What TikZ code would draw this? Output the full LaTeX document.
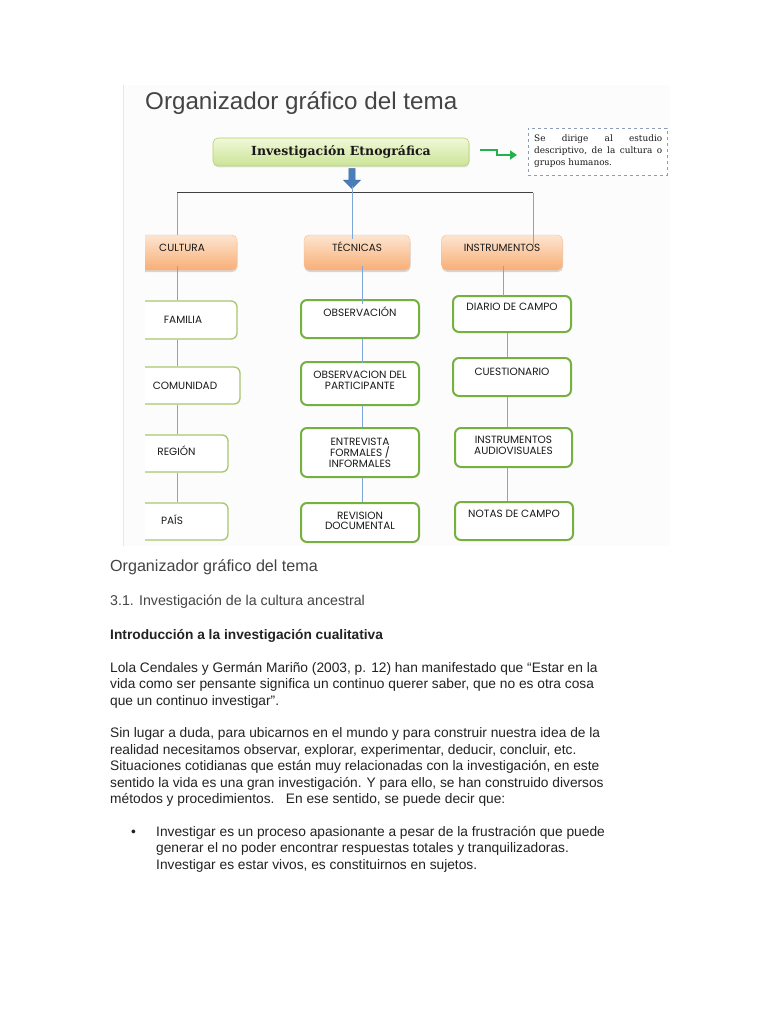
\documentclass[tikz,border=0pt]{standalone}
\usepackage{fontspec}
\setmainfont{Liberation Sans}
\newfontfamily\boxfont{Poppins}
\newfontfamily\serifb{DejaVu Serif}
\usetikzlibrary{shapes.arrows,arrows.meta,shadows}
\definecolor{txt}{HTML}{222222}
\definecolor{head}{HTML}{444444}
\definecolor{conn}{HTML}{7EA6D8}
\definecolor{gthick}{HTML}{76B041}
\definecolor{gthin}{HTML}{A9C66B}
\definecolor{otop}{HTML}{FDE5D0}
\definecolor{obot}{HTML}{F8AE76}
\definecolor{mtop}{HTML}{F1F8D8}
\definecolor{mbot}{HTML}{CBE497}
\definecolor{mbord}{HTML}{B3D36C}
\definecolor{barrow}{HTML}{4A7EBB}
\definecolor{garrow}{HTML}{22B14C}
\definecolor{dashc}{HTML}{8C9DB8}
\newcommand{\upby}[2]{\raisebox{#1}[\height][\depth]{#2}}
\tikzset{
  cat/.style={rectangle, rounded corners=5pt, top color=otop, bottom color=obot, draw=obot!80!white, line width=0.4pt,
     font=\boxfont\fontsize{10.4}{10}\selectfont, text=black!90, inner sep=0pt,
     drop shadow={shadow xshift=0.5pt, shadow yshift=-2pt, opacity=0.3}},
  thick box/.style={rectangle, rounded corners=6pt, draw=gthick, line width=2pt, fill=white,
     font=\boxfont\fontsize{10.5}{11}\selectfont, text=black!90, align=center, inner sep=0pt},
  thin box/.style={rectangle, rounded corners=6pt, draw=gthin, line width=1.3pt, fill=white,
     font=\boxfont\fontsize{10.5}{11}\selectfont, text=black!90, align=center, inner sep=0pt},
  link/.style={draw=conn, line width=1pt},
  para/.style={anchor=base west, inner sep=0pt, text=txt, font=\fontsize{13.75}{16}\selectfont},
}
\begin{document}
\begin{tikzpicture}[x=1pt,y=-1pt]
\useasboundingbox (0,0) rectangle (768,1024);
\fill[white] (0,0) rectangle (768,1024);
% image frame
\fill[black!1] (123,85) rectangle (670,546);
\draw[black!9, line width=0.6pt] (123,85) -- (123,546);
\node[anchor=base west, inner sep=0pt, text=head, font=\fontsize{24.2}{28}\selectfont] (title) at (145,110) {Organizador gráfico del tema};
% main box
\node[rectangle, rounded corners=5pt, top color=mtop, bottom color=mbot, draw=mbord, line width=0.6pt,
  minimum width=256pt, minimum height=28pt, inner sep=0pt,
  font=\serifb\bfseries\fontsize{12.5}{14}\selectfont, text=black!90,
  drop shadow={shadow xshift=0.5pt, shadow yshift=-1.5pt, opacity=0.2}] (main) at (341,152) {Investigación Etnográfica};
% dashed note
\node[draw=dashc, dashed, line width=0.7pt, fill=white, minimum width=139pt, minimum height=47pt, inner sep=0pt] (note) at (597.5,151.5) {};
\node[anchor=north west, inner sep=0pt, align=left, font=\serifb\fontsize{8.9}{12}\selectfont, text=black!90] (notetext) at (534,134.5)
  {\makebox[128pt][s]{Se\hfill dirige\hfill al\hfill estudio}\\\makebox[128pt][s]{descriptivo,\hfill de\hfill la\hfill cultura\hfill o}\\grupos humanos.};
% green arrow
\coordinate (ga) at (480,150);
\coordinate (gb) at (497,150);
\coordinate (gc) at (497,155);
\coordinate (gd) at (517,155);
\draw[garrow, line width=2.2pt, -{Triangle[length=7pt,width=9pt]}] (ga) -- (gb) -- (gc) -- (gd);
% blue arrow
\node[single arrow, shape border rotate=270, fill=barrow, draw=barrow!80!black, line width=0.3pt,
  minimum width=17pt, single arrow head extend=3.5pt, single arrow tip angle=90, minimum height=20pt, inner sep=2pt] (barr) at (352,177) {};
% horizontal bar
\coordinate (hl) at (177,193);
\coordinate (hr) at (533,193);
\draw[black!75, line width=1pt] (hl) -- (hr);
% categories
\begin{scope}
\clip (145,0) rectangle (700,560);
\node[cat, minimum width=110pt, minimum height=35pt] (cultura) at (182,252.5) {\upby{4.5pt}{CULTURA}};
\node[thin box, minimum width=112pt, minimum height=38pt] (familia) at (181,320) {\hspace*{4pt}FAMILIA};
\node[thin box, minimum width=115pt, minimum height=37pt] (comunidad) at (182.5,385.5) {\hspace*{5pt}COMUNIDAD};
\node[thin box, minimum width=103pt, minimum height=37pt] (region) at (176.5,453.5) {\upby{3pt}{REGIÓN}};
\node[thin box, minimum width=103pt, minimum height=37pt] (pais) at (176.5,521.5) {\hspace*{-9pt}\upby{2pt}{PAÍS}};
\end{scope}
\node[cat, minimum width=106pt, minimum height=35pt] (tecnicas) at (357,252.5) {\upby{6pt}{TÉCNICAS}};
\node[cat, minimum width=121pt, minimum height=35pt] (instr) at (502,252.5) {\upby{4.5pt}{INSTRUMENTOS}};
% column 2
\node[thick box, minimum width=118pt, minimum height=38pt] (obs) at (360,319) {\upby{7pt}{OBSERVACIÓN}};
\node[thick box, minimum width=118pt, minimum height=43pt] (obspart) at (360,383.5) {\upby{3pt}{\shortstack{OBSERVACION DEL\\PARTICIPANTE}}};
\node[thick box, minimum width=118pt, minimum height=49pt] (entre) at (360,452.5) {ENTREVISTA\\FORMALES /\\INFORMALES};
\node[thick box, minimum width=118pt, minimum height=39pt] (revis) at (360,522.5) {\upby{1.5pt}{\shortstack{REVISION\\DOCUMENTAL}}};
% column 3
\node[thick box, minimum width=118pt, minimum height=36pt] (diario) at (512,314) {\upby{7pt}{DIARIO DE CAMPO}};
\node[thick box, minimum width=118pt, minimum height=38pt] (cuest) at (512,377) {\upby{5pt}{CUESTIONARIO}};
\node[thick box, minimum width=117pt, minimum height=39pt] (audio) at (513.5,447.5) {\upby{2pt}{\shortstack{INSTRUMENTOS\\AUDIOVISUALES}}};
\node[thick box, minimum width=118pt, minimum height=38pt] (notas) at (514,521) {\upby{7pt}{NOTAS DE CAMPO}};
% connectors
\draw[link] (hl) -- (cultura.north -| hl);
\draw[link] ([yshift=7pt]hl -| barr) -- ([yshift=-4pt]tecnicas.north -| barr);
\draw[link] (hr) -- ([yshift=-10pt]instr.north -| hr);
\draw[link] ([yshift=4pt]cultura.south -| hl) -- (familia.north -| hl);
\draw[link] (familia.south -| hl) -- (comunidad.north -| hl);
\draw[link] (comunidad.south -| hl) -- (region.north -| hl);
\draw[link] (region.south -| hl) -- (pais.north -| hl);
\coordinate (c2) at (362,0);
\draw[link] ([yshift=4pt]tecnicas.south -| c2) -- ([yshift=-5pt]obs.north -| c2);
\draw[link] (obs.south -| c2) -- ([yshift=-2pt]obspart.north -| c2);
\draw[link] (obspart.south -| c2) -- (entre.north -| c2);
\draw[link] (entre.south -| c2) -- (revis.north -| c2);
\coordinate (c3a) at (503,0);
\coordinate (c3) at (507,0);
\draw[link] ([yshift=4pt]instr.south -| c3a) -- ([yshift=-1pt]diario.north -| c3a);
\draw[link] (diario.south -| c3) -- (cuest.north -| c3);
\draw[link] (cuest.south -| c3) -- (audio.north -| c3);
\draw[link] (audio.south -| c3) -- (notas.north -| c3);
% lower text
\node[anchor=base west, inner sep=0pt, text=head, font=\fontsize{16.1}{18}\selectfont] (h1) at (110,571) {Organizador gráfico del tema};
\node[anchor=base west, inner sep=0pt, text=head, font=\fontsize{14.2}{16}\selectfont] (h2) at (110,605) {3.1. Investigación de la cultura ancestral};
\node[anchor=base west, inner sep=0pt, text=txt, font=\bfseries\fontsize{13.75}{16}\selectfont] (h3) at (110,639) {Introducción a la investigación cualitativa};
\node[para] (p1) at (110,672) {Lola Cendales y Germán Mariño (2003, p. 12) han manifestado que “Estar en la};
\node[para] (p2) at (110,688.5) {vida como ser pensante significa un continuo querer saber, que no es otra cosa};
\node[para] (p3) at (110,705) {que un continuo investigar”.};
\node[para] (q1) at (110,737.5) {Sin lugar a duda, para ubicarnos en el mundo y para construir nuestra idea de la};
\node[para] (q2) at (110,754) {realidad necesitamos observar, explorar, experimentar, deducir, concluir, etc.};
\node[para] (q3) at (110,770.5) {Situaciones cotidianas que están muy relacionadas con la investigación, en este};
\node[para] (q4) at (110,787) {sentido la vida es una gran investigación. Y para ello, se han construido diversos};
\node[para] (q5) at (110,803.5) {métodos y procedimientos.\ \ \ En ese sentido, se puede decir que:};
\node[para] (bul) at (131,836) {•};
\node[para] (r1) at (156,836) {Investigar es un proceso apasionante a pesar de la frustración que puede};
\node[para] (r2) at (156,852.5) {generar el no poder encontrar respuestas totales y tranquilizadoras.};
\node[para] (r3) at (156,869) {Investigar es estar vivos, es constituirnos en sujetos.};
\end{tikzpicture}
\end{document}
